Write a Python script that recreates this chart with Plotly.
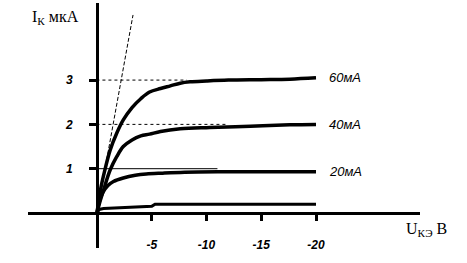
import plotly.graph_objects as go

# ---- data ----
x_ticks = [-5, -10, -15, -20]
x_tick_text = ["-5", "-10", "-15", "-20"]
y_ticks = [1, 2, 3]
y_tick_text = ["1", "2", "3"]

series_names = ["0мА", "20мА", "40мА", "60мА"]
x_0 = [0, -0.2, -0.6, -2, -4, -5, -5.3, -10, -20]
y_0 = [0, 0.08, 0.1, 0.12, 0.14, 0.15, 0.2, 0.2, 0.2]
x_20 = [0, -0.2, -0.5, -1.0, -1.5, -2.4, -3.5, -4.5, -6, -8, -11, -15, -20]
y_20 = [0, 0.25, 0.45, 0.62, 0.71, 0.79, 0.85, 0.88, 0.9, 0.92, 0.93, 0.93, 0.93]
x_40 = [0, -0.3, -0.6, -1.2, -1.8, -2.4, -3.2, -4.0, -4.8, -5.8, -7.6, -10.3, -14, -17.6, -20]
y_40 = [0, 0.28, 0.52, 0.97, 1.27, 1.5, 1.65, 1.74, 1.78, 1.84, 1.9, 1.93, 1.96, 1.99, 2.0]
x_60 = [0, -0.3, -0.7, -1.2, -1.8, -2.4, -3.2, -4.0, -4.8, -5.8, -6.7, -7.6, -8.5, -10, -12, -15, -17.6, -20]
y_60 = [0, 0.5, 0.95, 1.42, 1.8, 2.1, 2.38, 2.58, 2.73, 2.81, 2.87, 2.93, 2.96, 2.98, 3.0, 3.01, 3.02, 3.05]

# steep reference line
x_ref = [0, -3.29]
y_ref = [0, 4.47]

# horizontal guide lines (level, end voltage)
guide_levels = [3, 2, 1]
guide_ends = [-8.2, -11.8, -11.0]
guide_dash = ["dot", "dot", "solid"]

label_texts = ["20мА", "40мА", "60мА"]
label_levels = [0.93, 2.0, 3.05]

fig = go.Figure()

for xs, ys, w, shp in [(x_0, y_0, 3, "linear"), (x_20, y_20, 3.5, "spline"),
                       (x_40, y_40, 3.5, "spline"), (x_60, y_60, 3.5, "spline")]:
    fig.add_trace(go.Scatter(x=xs, y=ys, mode="lines", line=dict(color="black", width=w, shape=shp),
                             hoverinfo="skip", showlegend=False))

fig.add_trace(go.Scatter(x=x_ref, y=y_ref, mode="lines", line=dict(color="black", width=1, dash="4px,2px"),
                         hoverinfo="skip", showlegend=False))

for lvl, end, d in zip(guide_levels, guide_ends, guide_dash):
    fig.add_trace(go.Scatter(x=[0.6, end], y=[lvl, lvl], mode="lines",
                             line=dict(color="black", width=1, dash=d), hoverinfo="skip", showlegend=False))

for t, lvl in zip(label_texts, label_levels):
    fig.add_annotation(x=-21, y=lvl, text=t, showarrow=False, xanchor="left", yanchor="middle",
                       font=dict(family="Liberation Sans", size=13, color="black", style="italic"))

fig.add_annotation(x=30 / 467, y=1 - 17 / 263, xref="paper", yref="paper", text="I<sub>К</sub> мкА",
                   showarrow=False, xanchor="left", yanchor="middle",
                   font=dict(family="Liberation Serif", size=16, color="black"))
fig.add_annotation(x=404 / 467, y=1 - 229 / 263, xref="paper", yref="paper", text="U<sub>КЭ</sub> В",
                   showarrow=False, xanchor="left", yanchor="middle",
                   font=dict(family="Liberation Serif", size=16, color="black"))

tick_font = dict(family="Liberation Sans", size=12, color="black", style="italic", weight="bold")

fig.update_layout(
    width=467, height=263, margin=dict(l=0, r=0, t=0, b=0),
    paper_bgcolor="white", plot_bgcolor="white", showlegend=False,
    xaxis=dict(domain=[28 / 467, 420 / 467], range=[6.301, -29.498], anchor="free", position=50 / 263,
               showgrid=False, zeroline=False, showline=True, linecolor="black", linewidth=3,
               ticks="outside", ticklen=6, tickwidth=3, tickcolor="black",
               tickvals=x_ticks, ticktext=x_tick_text, ticklabelstandoff=14, tickfont=tick_font),
    yaxis=dict(domain=[15 / 263, 260 / 263], range=[-0.790, 4.740], anchor="free", position=97 / 467,
               showgrid=False, zeroline=False, showline=True, linecolor="black", linewidth=3,
               ticks="outside", ticklen=7, tickwidth=3, tickcolor="black",
               tickvals=y_ticks, ticktext=y_tick_text, ticklabelstandoff=14, tickfont=tick_font),
)

fig.write_html("out.html")
